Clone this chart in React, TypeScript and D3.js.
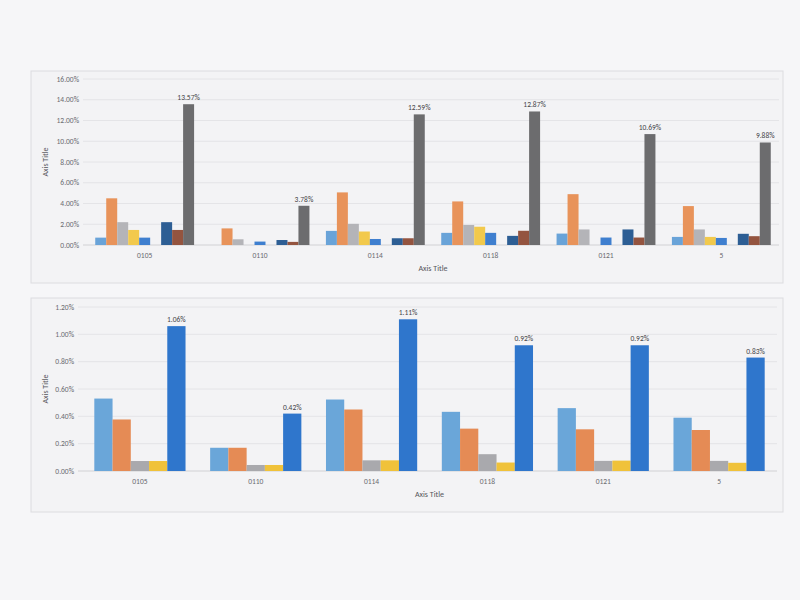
import * as d3 from "d3";
import { useEffect, useRef } from "react";

// categories shared by both charts
const categories = ["0105", "0110", "0114", "0118", "0121", "5"];

// top chart: 9 series (series 6 is empty everywhere)
const topLightBlue = [0.71, 0, 1.36, 1.17, 1.1, 0.78];
const topOrange = [4.5, 1.6, 5.07, 4.2, 4.9, 3.75];
const topGray = [2.2, 0.55, 2.04, 1.93, 1.5, 1.5];
const topYellow = [1.45, 0, 1.3, 1.76, 0, 0.78];
const topBlue = [0.71, 0.33, 0.58, 1.17, 0.72, 0.68];
const topGreen = [0, 0, 0, 0, 0, 0];
const topDarkBlue = [2.2, 0.48, 0.65, 0.88, 1.5, 1.08];
const topBrown = [1.45, 0.3, 0.65, 1.37, 0.72, 0.85];
const topDarkGray = [13.57, 3.78, 12.59, 12.87, 10.69, 9.88];
const topTicks = [0, 2, 4, 6, 8, 10, 12, 14, 16];

// bottom chart: 5 series
const botLightBlue = [0.53, 0.17, 0.523, 0.433, 0.46, 0.39];
const botOrange = [0.377, 0.17, 0.45, 0.31, 0.305, 0.3];
const botGray = [0.073, 0.044, 0.078, 0.123, 0.074, 0.074];
const botYellow = [0.073, 0.044, 0.078, 0.062, 0.076, 0.06];
const botBlue = [1.06, 0.42, 1.11, 0.92, 0.92, 0.83];
const botTicks = [0, 0.2, 0.4, 0.6, 0.8, 1.0, 1.2];

type Series = { values: number[]; color: string; label?: boolean };

type ChartProps = {
  series: Series[];
  ticks: number[];
  frame: { x: number; y: number; w: number; h: number };
  plot: { left: number; right: number; top: number; bottom: number };
  gap: number;
};

const FONT = "Calibri, Carlito, 'Liberation Sans', Arial, sans-serif";

const Chart = ({ series, ticks, frame, plot, gap }: ChartProps) => {
  const ref = useRef<SVGGElement>(null);

  useEffect(() => {
    if (!ref.current) return;
    const g = d3.select(ref.current);
    g.selectAll("*").remove();

    const n = series.length;
    const inner = gap / (n + gap);
    const x0 = d3
      .scaleBand<string>()
      .domain(categories)
      .range([plot.left, plot.right])
      .paddingInner(inner)
      .paddingOuter(inner / 2);
    const x1 = d3
      .scaleBand<number>()
      .domain(d3.range(n))
      .range([0, x0.bandwidth()]);
    const y = d3
      .scaleLinear()
      .domain([ticks[0], ticks[ticks.length - 1]])
      .range([plot.bottom, plot.top]);

    g.append("rect")
      .attr("x", frame.x)
      .attr("y", frame.y)
      .attr("width", frame.w)
      .attr("height", frame.h)
      .attr("fill", "#f3f3f5")
      .attr("stroke", "#dcdcdf")
      .attr("stroke-width", 1);

    // gridlines
    g.selectAll(".grid")
      .data(ticks.slice(1))
      .enter()
      .append("line")
      .attr("x1", plot.left - 4)
      .attr("x2", plot.right)
      .attr("y1", (d) => y(d))
      .attr("y2", (d) => y(d))
      .attr("stroke", "#e0e0e3")
      .attr("stroke-width", 0.8);

    g.append("line")
      .attr("x1", plot.left - 4)
      .attr("x2", plot.right)
      .attr("y1", y(0))
      .attr("y2", y(0))
      .attr("stroke", "#c8c8cc")
      .attr("stroke-width", 0.8);

    // y tick labels
    g.selectAll(".ytick")
      .data(ticks)
      .enter()
      .append("text")
      .attr("x", plot.left - 8)
      .attr("y", (d) => y(d))
      .attr("dy", "0.35em")
      .attr("text-anchor", "end")
      .attr("font-size", 7.5)
      .attr("fill", "#6a6a70")
      .text((d) => d.toFixed(2) + "%");

    // bars
    series.forEach((s, i) => {
      g.selectAll(`.bar${i}`)
        .data(s.values)
        .enter()
        .append("rect")
        .attr("x", (_, j) => (x0(categories[j]) ?? 0) + (x1(i) ?? 0))
        .attr("y", (d) => y(d))
        .attr("width", x1.bandwidth())
        .attr("height", (d) => y(0) - y(d))
        .attr("fill", s.color);
      if (s.label) {
        g.selectAll(`.lab${i}`)
          .data(s.values)
          .enter()
          .append("text")
          .attr(
            "x",
            (_, j) =>
              (x0(categories[j]) ?? 0) + (x1(i) ?? 0) + x1.bandwidth() / 2
          )
          .attr("y", (d) => y(d) - 4)
          .attr("text-anchor", "middle")
          .attr("font-size", 7.5)
          .attr("fill", "#444448")
          .text((d) => d.toFixed(2) + "%");
      }
    });

    // category labels
    g.selectAll(".xtick")
      .data(categories)
      .enter()
      .append("text")
      .attr("x", (d) => (x0(d) ?? 0) + x0.bandwidth() / 2)
      .attr("y", plot.bottom + 13)
      .attr("text-anchor", "middle")
      .attr("font-size", 7.5)
      .attr("fill", "#6a6a70")
      .text((d) => d);

    g.append("text")
      .attr("x", (plot.left + plot.right) / 2)
      .attr("y", plot.bottom + 26)
      .attr("text-anchor", "middle")
      .attr("font-size", 8)
      .attr("fill", "#55555a")
      .text("Axis Title");

    g.append("text")
      .attr(
        "transform",
        `translate(${frame.x + 17},${(plot.top + plot.bottom) / 2}) rotate(-90)`
      )
      .attr("text-anchor", "middle")
      .attr("font-size", 8)
      .attr("fill", "#55555a")
      .text("Axis Title");
  }, [series, ticks, frame, plot, gap]);

  return <g ref={ref} fontFamily={FONT} />;
};

const topSeries: Series[] = [
  { values: topLightBlue, color: "#69a3d8" },
  { values: topOrange, color: "#e8935a" },
  { values: topGray, color: "#b4b4b8" },
  { values: topYellow, color: "#f2c94c" },
  { values: topBlue, color: "#3f7fcf" },
  { values: topGreen, color: "#70ad47" },
  { values: topDarkBlue, color: "#2d5e94" },
  { values: topBrown, color: "#94543f" },
  { values: topDarkGray, color: "#6c6c6e", label: true },
];

const botSeries: Series[] = [
  { values: botLightBlue, color: "#6aa6d9" },
  { values: botOrange, color: "#e58b55" },
  { values: botGray, color: "#a9a9ad" },
  { values: botYellow, color: "#f0c23a" },
  { values: botBlue, color: "#2f76cc", label: true },
];

export default function App() {
  return (
    <svg
      width={800}
      height={600}
      style={{ position: "absolute", left: 0, top: 0 }}
    >
      <rect width={800} height={600} fill="#f6f6f8" />
      <Chart
        series={topSeries}
        ticks={topTicks}
        frame={{ x: 31, y: 71, w: 752, h: 212 }}
        plot={{ left: 87, right: 779, top: 79, bottom: 245 }}
        gap={1.5}
      />
      <Chart
        series={botSeries}
        ticks={botTicks}
        frame={{ x: 31, y: 298, w: 752, h: 214 }}
        plot={{ left: 82, right: 777, top: 307, bottom: 471 }}
        gap={1.35}
      />
    </svg>
  );
}
